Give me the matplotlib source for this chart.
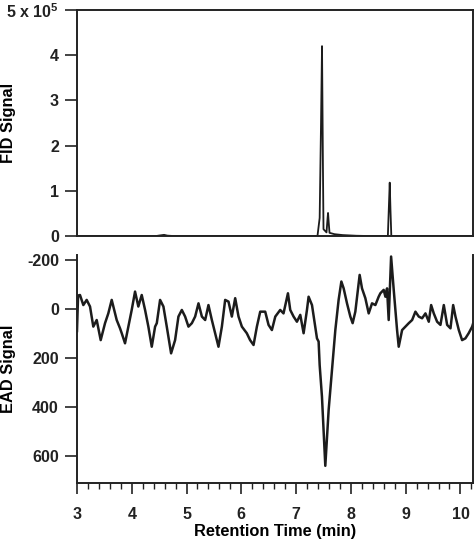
import numpy as np
import matplotlib
matplotlib.use('Agg')
import matplotlib.pyplot as plt
from matplotlib.ticker import MultipleLocator, FixedLocator

plt.rcParams['font.family'] = ['Liberation Sans', 'DejaVu Sans']
plt.rcParams['font.weight'] = 'bold'
plt.rcParams['font.size'] = 11.5
plt.rcParams['axes.unicode_minus'] = False
plt.rcParams['mathtext.fontset'] = 'custom'
plt.rcParams['mathtext.rm'] = 'Liberation Sans'

# FID trace (time in min, signal)
fid_t = [3.0, 4.45, 4.5, 4.59, 4.65, 4.75, 7.39, 7.43, 7.455, 7.473, 7.49, 7.50,
         7.555, 7.575, 7.583, 7.595, 7.61, 7.7, 7.85, 8.1, 8.3, 8.675, 8.695, 8.709,
         8.722, 8.738, 10.23]
fid_v = [0, 0, 1000, 2500, 800, 0, 0, 40000, 250000, 420000, 150000, 15000,
         8000, 40000, 51000, 30000, 7000, 4000, 2000, 500, 0, 0, 70000, 118000,
         60000, 0, 0]

# EAD trace (time in min, signal)
ead_t = [3.00, 3.02, 3.055, 3.116, 3.177, 3.238, 3.298, 3.36, 3.433, 3.512, 3.572,
         3.634, 3.664, 3.725, 3.786, 3.817, 3.877, 3.938, 3.999, 4.06, 4.12, 4.182,
         4.243, 4.303, 4.365, 4.426, 4.457, 4.517, 4.578, 4.639, 4.718, 4.791, 4.852,
         4.914, 4.974, 5.035, 5.097, 5.157, 5.218, 5.28, 5.34, 5.40, 5.462, 5.522,
         5.583, 5.645, 5.705, 5.766, 5.827, 5.888, 5.949, 6.01, 6.10, 6.16, 6.223,
         6.284, 6.345, 6.436, 6.497, 6.558, 6.62, 6.71, 6.77, 6.851, 6.893, 6.954,
         7.015, 7.076, 7.137, 7.198, 7.228, 7.29, 7.35, 7.381, 7.411, 7.43, 7.472,
         7.533, 7.594, 7.655, 7.716, 7.776, 7.826, 7.868, 7.929, 7.99, 8.032, 8.081,
         8.142, 8.16, 8.203, 8.264, 8.325, 8.386, 8.447, 8.507, 8.538, 8.599, 8.63,
         8.66, 8.69, 8.734, 8.782, 8.843, 8.873, 8.935, 8.995, 9.056, 9.118, 9.178,
         9.239, 9.30, 9.361, 9.422, 9.465, 9.513, 9.574, 9.635, 9.696, 9.757, 9.818,
         9.867, 9.909, 9.97, 10.03, 10.09, 10.15, 10.214, 10.23]
ead_v = [90, -55, -57, -16, -37, -10, 72, 45, 127, 58, 18,
         -37, -10, 45, 79, 99, 140, 72, 4, -71, -10, -57,
         4, 72, 154, 72, 58, -37, -10, 72, 181, 127, 31,
         4, 31, 72, 58, 31, -23, 31, 45, -16, 45, 99,
         154, 72, -37, -30, 31, -44, 31, 72, 99, 127, 147,
         72, 11, 11, 65, 86, 31, 4, 18, -64, 4, 31,
         52, 24, 99, 4, -50, -16, 72, 120, 133, 229, 358,
         640, 412, 249, 86, -37, -112, -84, -23, 31, 58, 11,
         -105, -139, -84, -44, 18, -23, -16, -50, -64, -78, -50,
         -84, 45, -214, -78, 86, 154, 86, 72, 58, 45, 11,
         31, 38, 18, 52, -16, 18, 52, 65, -16, 65, 79,
         -16, 31, 86, 127, 120, 99, 72, 60]

fid_ticks = [0, 1e5, 2e5, 3e5, 4e5, 5e5]
fid_labels = ['0', '1', '2', '3', '4', r'5 x 10$^5$']
ead_ticks = [-200, 0, 200, 400, 600]

line_c = '#1c1c1c'
fig = plt.figure(figsize=(4.74, 5.45), dpi=100)
ax1 = fig.add_axes([0.1624, 0.567, 0.8356, 0.4147])
ax2 = fig.add_axes([0.1624, 0.1138, 0.8356, 0.4182])

# FID panel
ax1.plot(fid_t, fid_v, c=line_c, lw=1.3)
ax1.set_xlim(3, 10.23)
ax1.set_ylim(0, 5e5)
ax1.yaxis.set_major_locator(FixedLocator(fid_ticks))
ax1.set_yticklabels(fid_labels)
ax1.tick_params(axis='x', bottom=False, labelbottom=False)
ax1.tick_params(axis='y', direction='out', length=9, width=1.2, pad=4, colors='#222222')
ax1.set_ylabel('FID Signal', fontsize=11.8, fontweight='bold')
ax1.yaxis.set_label_coords(-0.153, 0.5)
for s in ax1.spines.values():
    s.set_linewidth(1.4)
    s.set_color('#222222')

# EAD panel
ax2.plot(ead_t, ead_v, c=line_c, lw=1.8)
ax2.set_xlim(3, 10.23)
ax2.set_ylim(710, -220)
ax2.yaxis.set_major_locator(FixedLocator(ead_ticks))
ax2.xaxis.set_major_locator(MultipleLocator(1))
ax2.xaxis.set_minor_locator(MultipleLocator(0.2))
ax2.tick_params(axis='y', direction='out', length=9, width=1.2, pad=4, colors='#222222')
ax2.tick_params(axis='x', which='major', direction='out', length=8, width=1.2, pad=9, colors='#222222')
ax2.tick_params(axis='x', which='minor', direction='out', length=4, width=1.0, colors='#222222')
ax2.spines['top'].set_visible(False)
for s in ['left', 'right', 'bottom']:
    ax2.spines[s].set_linewidth(1.4)
    ax2.spines[s].set_color('#222222')
ax2.set_ylabel('EAD Signal', fontsize=11.8, fontweight='bold')
ax2.yaxis.set_label_coords(-0.153, 0.5)
ax2.set_xlabel('Retention Time (min)', fontsize=11.8, fontweight='bold', labelpad=2)

fig.savefig('out.png', dpi=100)
